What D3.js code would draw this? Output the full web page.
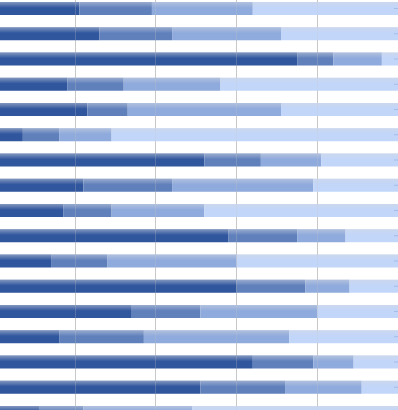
<!DOCTYPE html>
<html>
<head>
<meta charset="utf-8">
<script src="https://cdn.jsdelivr.net/npm/d3@7"></script>
<style>
    body { margin: 0; background: #fff; }
    #chart { width: 398px; height: 410px; overflow: hidden; }
</style>
</head>
<body>
<div id="chart"></div>
<script>
// rows, top to bottom (labels are outside the visible crop)
const categories = ["R1", "R2", "R3", "R4", "R5", "R6", "R7", "R8", "R9",
    "R10", "R11", "R12", "R13", "R14", "R15", "R16", "R17"];

// share of each row, in percent
const seriesA = [21, 26, 75, 18, 23, 7, 52, 22, 17, 58, 14, 60, 34, 16, 64, 51, 11];
const seriesB = [18, 18, 9, 14, 10, 9, 14, 22, 12, 17, 14, 17, 17, 21, 15, 21, 11];
const seriesC = [25, 27, 12, 24, 38, 13, 15, 35, 23, 12, 32, 11, 29, 36, 10, 19, 27];
const seriesD = [36, 29, 4, 44, 29, 71, 19, 21, 48, 13, 40, 12, 20, 27, 11, 9, 51];

const seriesKeys = ["A", "B", "C", "D"];
const gridTicks = [20, 40, 60, 80];

function renderStackedBars() {
    const width = 398;
    const height = 410;

    const rows = categories.map((c, i) => ({
        category: c,
        A: seriesA[i],
        B: seriesB[i],
        C: seriesC[i],
        D: seriesD[i]
    }));

    const stacked = d3.stack().keys(seriesKeys)(rows);

    // plot area starts a little left of the visible crop
    const x = d3.scaleLinear()
        .domain([0, 100])
        .range([-5.4, 398]);

    const y = d3.scaleBand()
        .domain(categories)
        .range([2, 419])
        .paddingInner(0.485)
        .paddingOuter(0);

    const color = d3.scaleOrdinal()
        .domain(seriesKeys)
        .range(["#30569e", "#6080bc", "#8faadc", "#c2d6fa"]);

    const svg = d3.select("#chart")
        .append("svg")
        .attr("width", width)
        .attr("height", height);

    const defs = svg.append("defs");
    const grad = defs.append("linearGradient")
        .attr("id", "shine")
        .attr("x1", 0).attr("y1", 0)
        .attr("x2", 0).attr("y2", 1);
    grad.append("stop").attr("offset", "0%").attr("stop-color", "#d4d8e0").attr("stop-opacity", 0.5);
    grad.append("stop").attr("offset", "45%").attr("stop-color", "#d4d8e0").attr("stop-opacity", 0);
    grad.append("stop").attr("offset", "100%").attr("stop-color", "#d4d8e0").attr("stop-opacity", 0);

    const gridX = d => Math.floor(x(d)) + 0.5;

    // gridlines behind the bars
    svg.append("g")
        .attr("class", "grid")
        .selectAll("line")
        .data(gridTicks)
        .enter().append("line")
        .attr("x1", gridX)
        .attr("x2", gridX)
        .attr("y1", 0)
        .attr("y2", height)
        .attr("stroke", "#c8c8c8")
        .attr("stroke-width", 1);

    const layers = svg.selectAll(".layer")
        .data(stacked)
        .enter().append("g")
        .attr("class", "layer")
        .attr("fill", d => color(d.key));

    layers.selectAll("rect")
        .data(d => d)
        .enter().append("rect")
        .attr("x", d => x(d[0]))
        .attr("y", d => y(d.data.category))
        .attr("width", d => x(d[1]) - x(d[0]))
        .attr("height", y.bandwidth());

    // soft highlight along the top of each bar
    svg.append("g")
        .selectAll("rect")
        .data(rows)
        .enter().append("rect")
        .attr("x", x(0))
        .attr("y", d => y(d.category))
        .attr("width", x(100) - x(0))
        .attr("height", y.bandwidth())
        .attr("fill", "url(#shine)");

    // faint gridlines showing through the bars
    svg.append("g")
        .attr("class", "grid-over")
        .selectAll("line")
        .data(gridTicks)
        .enter().append("line")
        .attr("x1", gridX)
        .attr("x2", gridX)
        .attr("y1", 0)
        .attr("y2", height)
        .attr("stroke", "#c8c8c8")
        .attr("stroke-opacity", 0.25)
        .attr("stroke-width", 1);

    // small ticks on the right edge
    const yAxis = d3.axisLeft(y).tickSizeInner(4).tickSizeOuter(0).tickFormat("");
    const ax = svg.append("g")
        .attr("class", "y axis")
        .attr("transform", `translate(398, 0)`)
        .call(yAxis);
    ax.select(".domain").remove();
    ax.selectAll("line").attr("stroke", "#a4bce6");
}

renderStackedBars();
</script>
</body>
</html>
